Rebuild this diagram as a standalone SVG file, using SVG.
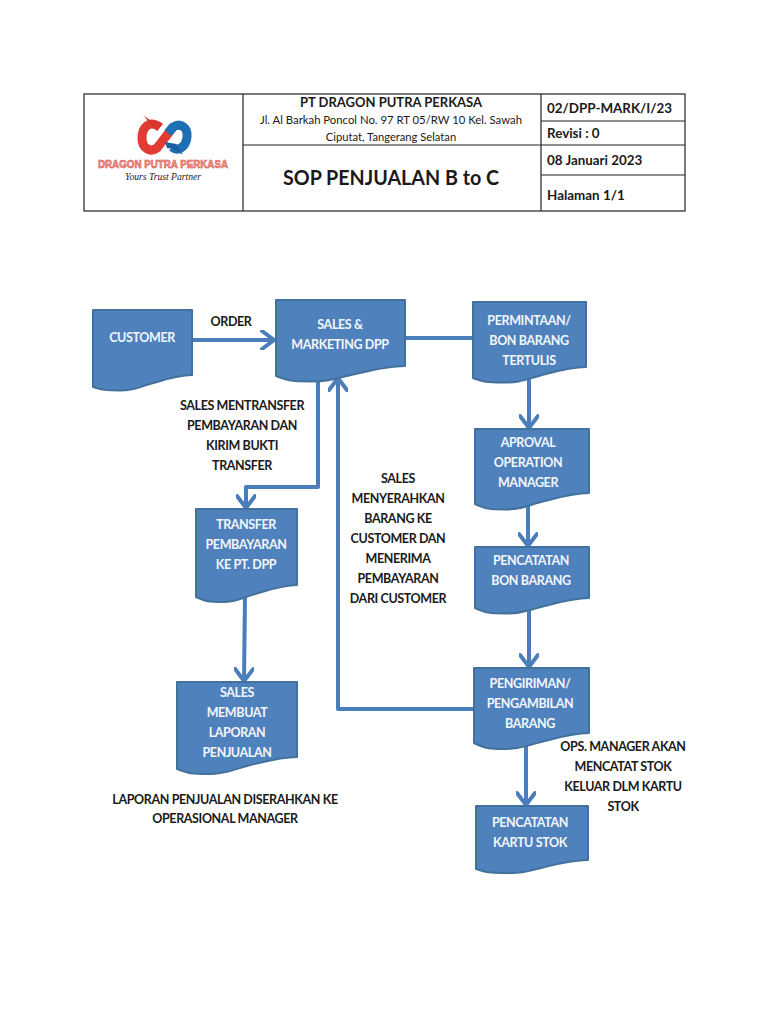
<svg xmlns="http://www.w3.org/2000/svg" width="768" height="1024" viewBox="0 0 768 1024">
<style>
text{font-family:Lato,"Noto Sans",sans-serif;font-weight:700;font-size:12.5px;letter-spacing:-.38px;text-anchor:middle;fill:#1a1a1a}
.w{fill:#f2f6fb}
.doc{fill:#4f81bd;stroke:#41719c;stroke-width:2;stroke-linejoin:round}
.con{fill:none;stroke:#4a7ebb;stroke-width:4;stroke-linejoin:round}
.grid{fill:none;stroke:#222;stroke-width:1.2}
.h{text-anchor:start;font-size:13.4px;letter-spacing:0}
</style>
<defs>
<marker id="arr" markerUnits="userSpaceOnUse" viewBox="0 0 20 20" refX="16" refY="10" markerWidth="20" markerHeight="20" orient="auto"><path d="M4 1L16 10L4 19" fill="none" stroke="#4a7ebb" stroke-width="4" stroke-linecap="round" stroke-linejoin="miter"/></marker>
</defs>
<rect width="768" height="1024" fill="#fff"/>
<g id="header">
<rect class="grid" x="84" y="94" width="601" height="117"/>
<path class="grid" d="M243 94V211M541 94V211M243 145H541M541 121H685M541 145H685M541 175H685"/>
<text x="391" y="107" style="font-size:13px;letter-spacing:0">PT DRAGON PUTRA PERKASA</text>
<text x="391" y="124" style="font-weight:400;font-size:11.2px;letter-spacing:0" textLength="262" lengthAdjust="spacingAndGlyphs">Jl. Al Barkah Poncol No. 97 RT 05/RW 10 Kel. Sawah</text>
<text x="391" y="141" style="font-weight:400;font-size:11.2px;letter-spacing:0">Ciputat, Tangerang Selatan</text>
<text x="391" y="185" style="font-size:20px;letter-spacing:0" textLength="216" lengthAdjust="spacingAndGlyphs">SOP PENJUALAN B to C</text>
<text class="h" x="547" y="113">02/DPP-MARK/I/23</text>
<text class="h" x="547" y="138">Revisi : 0</text>
<text class="h" x="547" y="165">08 Januari 2023</text>
<text class="h" x="547" y="200">Halaman 1/1</text>
</g>
<g id="logo">
<path d="M160 127C148 119 142 129 142 138C142 148 150 153 157 148L174 126" fill="none" stroke="#e23b33" stroke-width="9"/>
<path d="M142 113C146 119 152 121 158 122L163 124L157 131L150 124Z" fill="#d9362f"/>
<path d="M168 133L173 127C181 122 188 128 187 137C186 147 178 152 172 147" fill="none" stroke="#1f6fb5" stroke-width="9"/>
<path d="M165 142L176 144L183 155L174 149L167 148Z" fill="#1d5f9e"/>
<text x="163" y="168" style="font-family:'Liberation Sans',sans-serif;font-size:10.5px;letter-spacing:0;fill:#ef9c93;stroke:#d8453c;stroke-width:.5" textLength="130" lengthAdjust="spacingAndGlyphs">DRAGON PUTRA PERKASA</text>
<text x="163" y="180" style="font-family:'Liberation Serif',serif;font-style:italic;font-weight:400;font-size:10px;letter-spacing:0" textLength="76" lengthAdjust="spacingAndGlyphs">Yours Trust Partner</text>
</g>
<g id="connectors">
<path class="con" d="M192 340H274" marker-end="url(#arr)"/>
<path class="con" d="M405 338H473"/>
<path class="con" d="M318 376V487H246V508" marker-end="url(#arr)"/>
<path class="con" d="M474 709H338V378" marker-end="url(#arr)"/>
<path class="con" d="M529 375V428" marker-end="url(#arr)"/>
<path class="con" d="M528 500V546" marker-end="url(#arr)"/>
<path class="con" d="M529 605V667" marker-end="url(#arr)"/>
<path class="con" d="M526 745V805" marker-end="url(#arr)"/>
<path class="con" d="M245 596L244 681" marker-end="url(#arr)"/>
</g>
<g id="customer"><path class="doc" d="M93 310H192V375C177 375 164 380 150 384S135 390.500 120 390.500S103 390 93 387Z"/><text class="w" x="142" y="342">CUSTOMER</text></g>
<g id="sales-marketing"><path class="doc" d="M276 300H405V366C386 366 369 371 351 375S330 381.500 311 381.500S289 381 276 376Z"/><text class="w" x="340" y="329">SALES &amp;</text><text class="w" x="340" y="349">MARKETING DPP</text></g>
<g id="permintaan"><path class="doc" d="M473 302H586V367C569 367 554 372 539 376S520 382.500 503 382.500S484 382 473 378Z"/><text class="w" x="529" y="325">PERMINTAAN/</text><text class="w" x="529" y="345">BON BARANG</text><text class="w" x="529" y="365">TERTULIS</text></g>
<g id="aproval"><path class="doc" d="M475 429H589V493C572 493 557 498 541 502S523 509.500 506 509.500S486 509 475 504Z"/><text class="w" x="528" y="447">APROVAL</text><text class="w" x="528" y="467">OPERATION</text><text class="w" x="528" y="487">MANAGER</text></g>
<g id="pencatatan-bon"><path class="doc" d="M475 547H589V598C572 598 557 603 541 607S523 613.500 506 613.500S486 613 475 608Z"/><text class="w" x="531" y="565">PENCATATAN</text><text class="w" x="531" y="585">BON BARANG</text></g>
<g id="pengiriman"><path class="doc" d="M474 668H589V733C572 733 557 738 541 742S522 749 505 749S486 748.500 474 743Z"/><text class="w" x="530" y="688">PENGIRIMAN/</text><text class="w" x="530" y="708">PENGAMBILAN</text><text class="w" x="530" y="728">BARANG</text></g>
<g id="kartu-stok"><path class="doc" d="M476 806H588V860C571 860 557 864 541 868S523 873 506 873S487 872.500 476 869Z"/><text class="w" x="530" y="827">PENCATATAN</text><text class="w" x="530" y="847">KARTU STOK</text></g>
<g id="transfer"><path class="doc" d="M196 509H297V585C282 585 269 590 255 594S238 602 223 602S206 601.500 196 597Z"/><text class="w" x="246" y="529">TRANSFER</text><text class="w" x="246" y="549">PEMBAYARAN</text><text class="w" x="246" y="569">KE PT. DPP</text></g>
<g id="sales-laporan"><path class="doc" d="M177 682H297V757C279 757 263 762 247 766S227 774 209 774S189 773.500 177 769Z"/><text class="w" x="237" y="697">SALES</text><text class="w" x="237" y="717">MEMBUAT</text><text class="w" x="237" y="737">LAPORAN</text><text class="w" x="237" y="757">PENJUALAN</text></g>
<g id="labels">
<text x="231" y="326">ORDER</text>
<text x="242" y="410">SALES MENTRANSFER</text><text x="242" y="430">PEMBAYARAN DAN</text><text x="242" y="450">KIRIM BUKTI</text><text x="242" y="470">TRANSFER</text>
<text x="398" y="483">SALES</text><text x="398" y="503">MENYERAHKAN</text><text x="398" y="523">BARANG KE</text><text x="398" y="543">CUSTOMER DAN</text><text x="398" y="563">MENERIMA</text><text x="398" y="583">PEMBAYARAN</text><text x="398" y="603">DARI CUSTOMER</text>
<text x="623" y="751">OPS. MANAGER AKAN</text><text x="623" y="771">MENCATAT STOK</text><text x="623" y="791">KELUAR DLM KARTU</text><text x="623" y="811">STOK</text>
<text x="225" y="804">LAPORAN PENJUALAN DISERAHKAN KE</text><text x="225" y="823">OPERASIONAL MANAGER</text>
</g>
</svg>
